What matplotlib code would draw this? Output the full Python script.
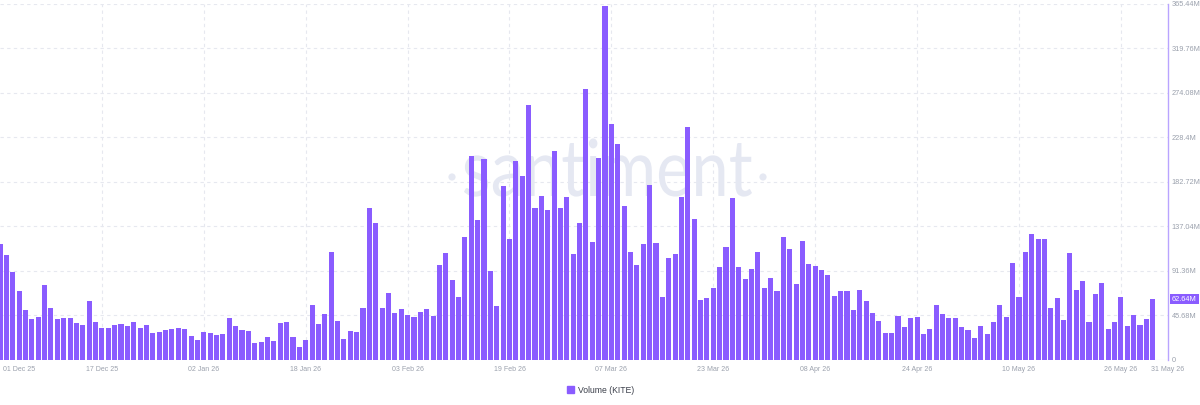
import matplotlib
matplotlib.use("Agg")
import matplotlib.pyplot as plt
from matplotlib.patches import Rectangle, PathPatch, Circle
from matplotlib.textpath import TextPath
from matplotlib.font_manager import FontProperties
from matplotlib.transforms import Affine2D, IdentityTransform
import numpy as np
import pandas as pd

# daily KITE volume, millions, 01 Dec 25 .. 31 May 26
volume_m = [
    119, 107.7, 90, 70.8, 51, 41.8, 43.8, 77.3, 53, 42, 43.4, 43.1, 37.6, 35.9, 60.9, 38.7,
    32.5, 32.8, 35.9, 36.6, 34.9, 38.7, 33.2, 35.9, 28, 28.7, 30.8, 31.8, 32.5, 32.1, 24.3, 20.2,
    28.4, 27.7, 26, 26.4, 43.4, 34.9, 31.1, 30.1, 17.1, 18.5, 23.3, 19.5, 38, 39.3, 23.9, 13,
    20.2, 56.4, 37.3, 47.5, 110.8, 39.7, 21.5, 29.4, 28.4, 53, 155.7, 140.6, 53.7, 69.1, 48.2, 52,
    46.2, 43.8, 49.3, 52.3, 45.2, 97.5, 109.5, 82.4, 64.6, 126.5,
    209.6, 143, 206.3, 91, 55.1, 177.9, 124.2, 203.5, 188.5, 261, 156, 168, 154.2, 214.2, 156.3, 167,
    108.5, 140.6, 277.4, 121.1, 207.3, 362.5, 241.5, 221.7, 158.3, 110.5, 97.8, 119, 179.6, 120.1, 65, 104.4,
    108.5, 167.3, 238.8, 145, 61.6, 63.6, 73.6, 95.4, 116.3, 165.9, 95.7, 83.1, 93.7, 111.1,
    73.9, 84.5, 70.8, 126.5, 113.6, 78, 122.1, 98.2, 96.1, 92.4, 87.2, 65.7, 70.5, 70.5, 51.6, 72.1,
    60.5, 47.9, 40.3, 27.4, 27.4, 44.8, 33.9, 43.4, 44.1, 26.4, 31.5, 56.7, 47.2, 43.1, 43.1, 33.9,
    30.8, 22.3, 34.6, 26.7, 39.3,
    56.6, 44.4, 99.3, 64.6, 110.7, 128.8, 124.1, 124.2, 53.7, 63.6, 41, 109.8, 72.1, 80.8, 38.7, 68,
    79.3, 31.5, 39, 64.6, 35.2, 46.2, 36.2, 41.8, 62.64,
]
dates = pd.date_range("2025-12-01", periods=len(volume_m), freq="D")

xtick_labels = ["01 Dec 25", "17 Dec 25", "02 Jan 26", "18 Jan 26", "03 Feb 26", "19 Feb 26",
                "07 Mar 26", "23 Mar 26", "08 Apr 26", "24 Apr 26", "10 May 26", "26 May 26"]
end_label = "31 May 26"
ytick_vals = [0, 45.68, 91.36, 137.04, 182.72, 228.4, 274.08, 319.76, 365.44]
ytick_labels = ["0", "45.68M", "91.36M", "137.04M", "182.72M", "228.4M", "274.08M", "319.76M", "365.44M"]
last_label = "62.64M"

BAR = "#8a5cff"
GRID = "#e6e8ef"
TXT = "#9ba1ad"
WM = "#e5e8f2"

fig = plt.figure(figsize=(12, 4.06), dpi=100)
ax = fig.add_axes([0, 45 / 406, 1168 / 1200, (361 - 4.5) / 406])

x = np.arange(len(volume_m))
ax.bar(x, volume_m, width=0.8, color=BAR, zorder=3)

ax.set_xlim(-0.0, 183.4)
ax.set_ylim(0, 365.44)

# watermark, drawn in pixel coords (squeezed a bit like the original logo)
prop = FontProperties(family="Lato")
word = TextPath((0, 0), "santiment", size=1, prop=prop)
xh = TextPath((0, 0), "x", size=1, prop=prop).get_extents().height
ext = word.get_extents()
sy = 40 / xh
sx = 288 / ext.width
tr = Affine2D().translate(-ext.x0, 0).scale(sx, sy).translate(464, 406 - 197)
ax.add_patch(PathPatch(word, transform=tr + IdentityTransform(), fc=WM, ec="none", zorder=1))
for cx in (452, 763):
    ax.add_patch(Circle((cx, 406 - 178), 3.6, transform=IdentityTransform(), fc=WM, ec="none", zorder=1))

# grid
for v in ytick_vals[1:]:
    ax.axhline(v, color=GRID, lw=0.8, ls=(0, (3, 3)), zorder=0)
tick_pos = [list(dates).index(pd.Timestamp(d)) for d in
            pd.to_datetime(xtick_labels, format="%d %b %y")]
for p in tick_pos[1:]:
    ax.axvline(p, color=GRID, lw=0.8, ls=(0, (3, 3)), zorder=0)
ax.axhline(0, color="#e2e4ea", lw=0.8, zorder=2)

for s in ["top", "left", "bottom"]:
    ax.spines[s].set_visible(False)
ax.spines["right"].set_color("#b9a4ff")
ax.spines["right"].set_linewidth(1.0)
ax.set_xticks([])
ax.set_yticks([])

# x labels
for i, (p, lab) in enumerate(zip(tick_pos, xtick_labels)):
    ax.text(p + (0.5 if i == 0 else 0), -5, lab, fontsize=5.0, color=TXT, family="Liberation Sans",
            ha="left" if i == 0 else "center", va="top")
ax.text(183.4, -5, end_label, fontsize=5.0, color=TXT, family="Liberation Sans", ha="center", va="top")

# y labels
for v, lab in zip(ytick_vals, ytick_labels):
    ax.text(1.003, v, lab, transform=ax.get_yaxis_transform(), fontsize=5.3, color=TXT,
            family="Liberation Sans", ha="left", va="center", clip_on=False)
ax.text(1.0035, volume_m[-1], last_label, transform=ax.get_yaxis_transform(), fontsize=5.3,
        color="white", family="Liberation Sans", ha="left", va="center", clip_on=False,
        bbox=dict(boxstyle="square,pad=0.25", fc=BAR, ec="none"))

# legend
fig.patches.append(Rectangle((567 / 1200, 1 - 394 / 406), 7 / 1200, 7 / 406,
                             transform=fig.transFigure, color=BAR))
fig.text(578 / 1200, 1 - 390.5 / 406, "Volume (KITE)", fontsize=6.2, color="#3b3f4a",
         family="Liberation Sans", ha="left", va="center")

fig.savefig("out.png", dpi=100)
